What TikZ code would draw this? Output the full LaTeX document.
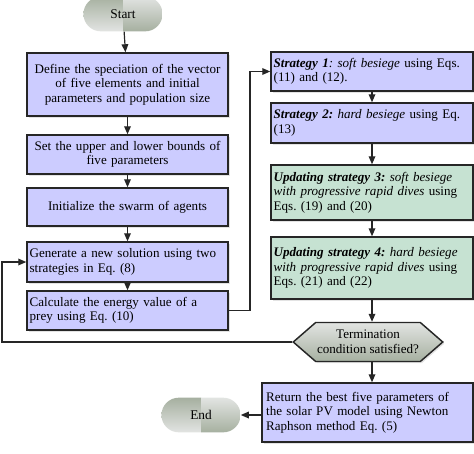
\documentclass[tikz,border=0pt]{standalone}
\usepackage{fontspec}
\setmainfont{Liberation Serif}
\frenchspacing
\usetikzlibrary{arrows.meta,shapes.misc,shapes.symbols,shadows}

\definecolor{boxblue}{RGB}{204,204,255}
\definecolor{boxgreen}{RGB}{198,226,210}
\definecolor{capdark}{RGB}{166,176,160}
\definecolor{capmid}{RGB}{200,204,214}
\definecolor{caplight}{RGB}{226,228,226}

\tikzset{
  procbox/.style={draw=black!85, line width=1.1pt, fill=boxblue, inner xsep=2pt, inner ysep=2pt,
    font=\fontsize{9.8}{10.9}\selectfont,
    drop shadow={shadow xshift=1.2pt, shadow yshift=-1.2pt, opacity=0.22}},
  leftbox/.style={procbox, minimum width=150.75pt, text width=146.75pt},
  rightbox/.style={procbox, minimum width=151.5pt, text width=147.5pt, align=left},
  greenbox/.style={rightbox, fill=boxgreen},
  capsule/.style={rounded rectangle, minimum width=66pt, minimum height=26pt,
    font=\fontsize{10}{11}\selectfont,
    path picture={
      \shade[top color=capdark, middle color=capmid, bottom color=caplight]
        (path picture bounding box.south west) rectangle (path picture bounding box.north);
      \shade[top color=caplight, middle color=capmid, bottom color=capdark]
        (path picture bounding box.south) rectangle (path picture bounding box.north east);}},
  decision/.style={signal, signal to=west and east, signal pointer angle=82, draw=black!85,
    line width=1.1pt, top color=caplight, middle color=capmid, bottom color=capdark,
    minimum width=111.75pt, minimum height=29.25pt, align=center, inner sep=1pt,
    font=\fontsize{9.8}{10.9}\selectfont,
    drop shadow={shadow xshift=1.2pt, shadow yshift=-1.2pt, opacity=0.22}},
  flow/.style={-{Triangle[length=6pt,width=5pt]}, line width=0.9pt, draw=black!85}
}

\begin{document}
\begin{tikzpicture}[x=0.75pt,y=0.75pt,yscale=-1,xscale=1]
\useasboundingbox (0,0) rectangle (474,453);

%Terminal: Start
\node[capsule] (start) at (123,14) {Start};

%Process: left column
\node[leftbox, align=center, minimum height=47.25pt] (define) at (127.5,84.5) {Define the speciation of the vector\\of five elements and initial\\parameters and population size};
\node[leftbox, align=center, minimum height=29.25pt] (bounds) at (127.5,154.5) {Set the upper and lower bounds of\\five parameters};
\node[leftbox, align=center, minimum height=28.5pt] (init) at (127.5,207) {Initialize the swarm of agents};
\node[leftbox, align=left, minimum height=30pt] (gen) at (127.5,262) {Generate a new solution using two\\strategies in Eq. (8)};
\node[leftbox, align=left, minimum height=29.25pt] (calc) at (127.5,310.5) {Calculate the energy value of a\\prey using Eq. (10)};

%Process: right column
\node[rightbox, minimum height=29.25pt] (strat1) at (372,71.5) {\textbf{\textit{Strategy 1}}\textit{: soft besiege} using Eqs.\\(11) and (12).};
\node[rightbox, minimum height=30pt] (strat2) at (372,123) {\textbf{\textit{Strategy 2:}} \textit{hard besiege} using Eq.\\(13)};
\node[greenbox, minimum height=41.25pt] (strat3) at (372,192.5) {\textbf{\textit{Updating strategy 3:}} \textit{soft besiege}\\\textit{with progressive rapid dives} using\\Eqs. (19) and (20)};
\node[greenbox, minimum height=46.5pt] (strat4) at (372,268) {\textbf{\textit{Updating strategy 4:}} \textit{hard besiege}\\\textit{with progressive rapid dives} using\\Eqs. (21) and (22)};

%Decision
\node[decision] (term) at (368,342) {Termination\\condition satisfied?};

%Process: result
\node[procbox, minimum width=158.25pt, text width=152pt, align=left, minimum height=44.25pt] (result) at (367.5,412.5) {Return the best five parameters of\\the solar PV model using Newton\\Raphson method Eq. (5)};

%Terminal: End
\node[capsule] (finish) at (201,415) {End};

%Bends of the loops
\coordinate (loopR) at (250,71.5);
\coordinate (loopL) at (2,262);

%Connectors
\draw[flow] (start) -- (define);
\draw[flow] (define) -- (bounds);
\draw[flow] (bounds) -- (init);
\draw[flow] (init) -- (gen);
\draw[flow] (gen) -- (calc);
\draw[flow] (calc.east) -| (loopR) -- (strat1.west);
\draw[flow] (strat1) -- (strat2);
\draw[flow] (strat2) -- (strat3);
\draw[flow] (strat3) -- (strat4);
\draw[flow] (strat4) -- (strat4 |- term.north);
\draw[flow] (term.south -| strat4) -- (strat4 |- result.north);
\draw[flow] (term.west) -| (loopL) -- (gen.west);
\draw[flow] (result.west |- finish) -- (finish.east);

\end{tikzpicture}
\end{document}
